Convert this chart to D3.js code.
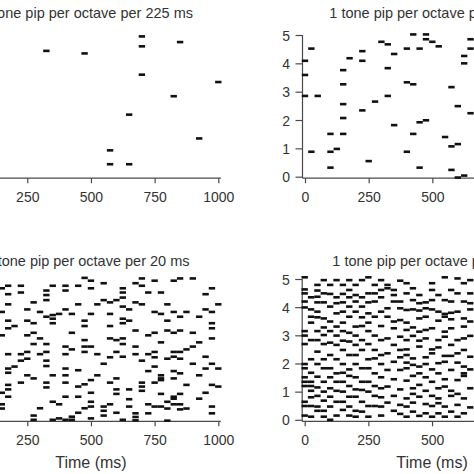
<!DOCTYPE html>
<html>
<head>
<meta charset="utf-8">
<script src="https://cdn.jsdelivr.net/npm/d3@7"></script>
<style>
  html, body { margin: 0; padding: 0; background: #fff; overflow: hidden; }
  svg { display: block; }
</style>
</head>
<body>
<script>
// ---------------- DATA ----------------
const xTicks = [0, 250, 500, 750, 1000];
const yTicks = [0, 1, 2, 3, 4, 5];
const pipDuration = 25; // ms

const titles = [
  "1 tone pip per octave per 225 ms",
  "1 tone pip per octave per 50 ms",
  "1 tone pip per octave per 20 ms",
  "1 tone pip per octave per 10 ms"
];
const xAxisLabel = "Time (ms)";

// [time (ms), octave]
const pips225 = [[325,4.44],[475,4.35],[700,4.95],[700,4.6],[850,4.75],[700,3.6],[1000,3.34],
  [825,2.84],[650,2.19],[925,1.35],[575,0.93],[575,0.44],[650,0.44]];

const pips50 = [[0,4.09],[0,3.59],[0,2.85],[25,4.52],[50,2.85],[25,0.88],[100,1.51],[100,0.88],
  [100,0.32],[125,0.98],[150,3.76],[150,3.26],[150,2.56],[150,2.07],[150,1.51],[175,4.18],
  [225,4.43],[225,4.09],[225,2.34],[250,0.55],[275,2.65],[300,4.76],[325,4.67],[325,3.83],
  [325,2.85],[350,4.33],[350,1.82],[400,4.52],[400,3.33],[400,0.88],[425,5.02],[425,3.26],
  [425,1.51],[450,4.52],[450,1.92],[450,0.32],[475,5.02],[475,4.85],[475,1.99],[500,4.76],
  [525,4.6],[550,1.4],[575,3.16],[575,1.07],[575,0.24],[600,2.49],[600,1.15],[600,-0.03],
  [625,4.26],[625,4.0],[625,0.04],[650,4.85],[650,4.52],[650,2.24]];

const pips20 = [
  [475,5.04],[500,4.94],[550,4.85],
  [150,4.67],[175,4.76],[225,4.76],[350,4.76],[400,4.76],[450,4.76],
  [175,4.46],[225,4.52],[325,4.59],[400,4.59],[500,4.67],
  [325,4.43],[325,4.25],[550,4.25],[600,4.25],
  [175,4.10],[275,4.17],[450,4.10],[525,4.10],[575,4.17],
  [150,3.83],[250,3.92],[300,3.83],[400,3.92],[350,3.72],[375,3.76],[425,3.76],[500,3.76],[575,3.76],
  [325,3.66],
  [175,3.52],[250,3.52],[275,3.43],[350,3.59],[350,3.43],[475,3.52],
  [175,3.25],[200,3.33],[475,3.33],[575,3.33],
  [150,3.00],[250,3.00],[275,3.09],[300,2.89],[425,3.09],
  [475,2.83],[575,2.89],[600,2.83],
  [275,2.69],[325,2.69],[400,2.60],[425,2.50],[475,2.60],[500,2.60],
  [400,2.33],[475,2.41],
  [175,2.33],[225,2.33],[250,2.41],[300,2.33],[325,2.41],
  [225,2.10],[250,2.17],[325,2.10],[525,2.33],[575,2.22],
  [200,1.89],[175,1.82],[325,1.91],[550,1.99],
  [175,1.67],
  [250,1.58],[275,1.47],[350,1.58],[400,1.58],[450,1.76],[400,1.82],
  [225,1.32],[325,1.32],[400,1.32],[500,1.41],[525,1.58],[575,1.32],[600,1.47],
  [175,1.24],[325,1.15],[450,1.18],[475,1.26],
  [150,0.96],[175,1.08],[175,0.82],[400,0.82],[450,0.82],[500,0.96],[600,1.08],
  [350,0.64],[375,0.55],[500,0.64],
  [150,0.55],[150,0.40],[300,0.41],[450,0.25],[475,0.41],[500,0.47],[550,0.47],[575,0.55],
  [275,0.15],[275,0],[350,0],[375,0.05],[400,0],[425,0.11],[425,0],[500,0.05],[550,0.15],[550,0.32],[600,0.25],
  [700,5.02],[750,4.94],[825,4.94],[850,5.02],[900,5.02],
  [675,4.85],[700,4.76],
  [625,4.67],[625,4.52],[625,4.34],
  [725,4.52],[775,4.52],[950,4.46],[975,4.67],
  [675,4.17],[700,4.10],[800,4.10],[1000,4.10],
  [625,4.02],[650,3.92],[750,3.83],[775,3.76],[825,3.83],[850,3.66],[875,3.83],[925,3.66],[950,3.92],[975,3.83],
  [625,3.59],[625,3.43],[650,3.52],[800,3.52],[975,3.43],[975,3.25],
  [675,3.17],[725,3.00],[750,3.09],[800,3.17],[825,3.09],[850,3.17],[900,3.09],[975,2.89],
  [625,2.89],[775,2.75],[925,2.75],
  [625,2.69],[675,2.60],[900,2.60],[875,2.50],[850,2.41],
  [600,2.41],[625,2.24],[675,2.33],[725,2.33],[750,2.41],[750,2.22],[800,2.17],[825,2.41],[825,2.24],[850,2.17],[950,2.24],
  [700,2.10],[750,1.89],[900,1.99],[975,1.99],[950,1.82],[1000,1.82],
  [725,1.73],[775,1.58],[775,1.47],[825,1.73],[825,1.47],[850,1.65],[925,1.58],
  [700,1.32],[750,1.32],[775,1.41],[875,1.24],[975,1.24],[1000,1.18],
  [600,0.92],[650,1.08],[700,1.18],[700,1.03],[775,0.92],[825,0.82],[850,0.92],[950,0.96],
  [650,0.73],[800,0.64],[825,0.75],[850,0.55],[925,0.75],
  [650,0.47],[725,0.55],[750,0.47],[775,0.47],[825,0.55],[875,0.40],[975,0.47],
  [675,0.23],[725,0.23],[800,0.40],[850,0.37],[975,0.23],
  [625,0],[675,0.1],[675,-0.02],[800,-0.03]
];

// [time (ms), [octaves...]]
const pips10Columns = [
  [0,[5.06,4.63,4.49,4.20,3.99,3.15,2.99,2.69,1.98,1.83,1.51,1.35,1.20,0.64,0.49,0.15]],
  [25,[4.35,3.92,3.66,3.45,2.83,2.15,1.67,1.35,1.20,1.03,0.80,0.49,0.11]],
  [50,[4.79,4.59,4.37,4.17,3.84,3.64,3.15,2.83,2.42,1.98,1.53,1.15,0.85,0.47,0.32]],
  [75,[4.96,4.49,4.17,3.60,3.28,3.01,2.69,2.15,1.83,1.35,1.00,0.68,0.32,0.11]],
  [100,[4.79,4.47,4.02,3.49,3.15,2.74,2.30,1.83,1.51,1.12,0.82,0.47,0.0]],
  [125,[4.96,4.35,4.14,3.78,3.31,2.99,2.66,2.15,1.65,1.35,1.03,0.64,0.15]],
  [150,[4.79,4.47,4.17,3.84,3.45,3.15,2.81,2.48,1.98,1.67,1.35,1.00,0.64,0.35]],
  [175,[4.96,4.61,4.35,4.02,3.66,3.09,2.78,2.30,1.79,1.56,1.20,0.82,0.47,0.15]],
  [200,[4.79,4.43,4.20,3.84,3.31,2.99,2.66,2.30,1.98,1.51,1.08,0.82,0.32,0.11]],
  [225,[4.96,4.35,4.02,3.64,3.33,2.83,2.48,1.83,1.35,1.06,0.64,0.29]],
  [250,[5.06,4.49,4.17,3.78,3.45,3.15,2.69,2.15,1.83,1.35,1.00,0.49,0.11]],
  [275,[4.79,4.49,4.20,3.66,2.99,2.48,2.18,1.65,1.20,0.85,0.49]],
  [300,[4.96,4.61,4.35,3.84,3.33,2.83,2.30,1.98,1.51,1.12,0.80,0.47,0.15]],
  [325,[4.79,4.67,3.96,3.66,2.89,2.36,1.77,1.18,0.61]],
  [350,[4.61,4.43,4.20,3.49,3.25,2.66,2.06,1.44,0.85,0.32]],
  [375,[4.94,4.20,3.96,3.54,2.95,2.48,2.22,1.77,1.08,0.53,0.21]],
  [400,[4.85,4.49,3.90,3.45,3.19,2.83,2.50,2.30,2.03,1.83,1.39,0.76,0.47,0.11]],
  [425,[4.67,4.25,3.92,3.28,2.98,2.18,1.95,1.56,1.12,0.92,0.61,0.29]],
  [450,[4.43,4.14,3.88,3.60,3.13,2.81,2.60,1.89,1.65,1.24,0.82,0.14]],
  [475,[4.17,3.96,3.66,3.19,2.89,2.22,1.98,1.51,1.03,0.56,0.23]],
  [500,[4.85,4.61,4.25,3.92,3.25,2.50,2.36,1.79,1.35,0.85,0.49,0.11]],
  [525,[4.43,3.84,3.52,2.83,2.57,2.01,1.65,1.12,0.76,0.59,0.23]],
  [550,[5.06,4.25,3.76,3.66,3.13,2.95,2.27,2.06,1.44,1.18,0.47,0.11]],
  [575,[4.61,4.20,3.80,3.57,3.25,2.66,2.27,1.77,1.03,0.85,0.29]],
  [600,[5.02,4.49,3.84,2.83,2.36,2.03,1.41,0.92,0.53,0.11]],
  [625,[4.85,4.20,3.60,3.31,2.89,2.48,1.89,1.65,1.56,0.76,0.23]],
  [650,[4.96,4.49,4.14,3.92,3.49,2.98,2.24,1.79,1.12,0.44]]
];
const pips10 = pips10Columns.flatMap(([t, octs]) => octs.map(o => [t, o]));

// ---------------- LAYOUT ----------------
const W = 474, H = 474;
const FONT = "'Liberation Sans', Arial, Helvetica, sans-serif";
const TEXT = "#333";
const AXIS = "#4a4a4a";
const fmt = d3.format("d");

const panels = [
  { data: pips225, title: titles[0], xr: [-36.4, 218.3], yr: [176.7, 35.0], tx: 193, ta: "end",   ty: 18,  xlab: false },
  { data: pips50,  title: titles[1], xr: [305.0, 559.7], yr: [176.7, 35.0], tx: 329.3, ta: "start", ty: 18,  xlab: false },
  { data: pips20,  title: titles[2], xr: [-36.4, 218.3], yr: [419.8, 279.0], tx: 189.5, ta: "end",   ty: 266, xlab: true },
  { data: pips10,  title: titles[3], xr: [304.7, 559.4], yr: [419.8, 279.0], tx: 332.3, ta: "start", ty: 266, xlab: true }
];

const svg = d3.select("body").append("svg")
  .attr("width", W).attr("height", H)
  .style("font-family", FONT);

panels.forEach(p => {
  const x = d3.scaleLinear().domain([0, 1000]).range(p.xr);
  const y = d3.scaleLinear().domain([0, 5]).range(p.yr);
  const g = svg.append("g");

  const axisY = y(0) + 1.5;
  const axisX = x(0) - 2.5;

  // x axis
  const gx = g.append("g").attr("transform", `translate(0,${axisY})`)
    .call(d3.axisBottom(x).tickValues(xTicks).tickFormat(fmt).tickSize(5).tickSizeOuter(0));
  gx.select(".domain").remove();
  gx.append("line").attr("x1", x(-10)).attr("x2", x(1010)).attr("y1", 0).attr("y2", 0)
    .attr("stroke", AXIS).attr("stroke-width", 1.2);
  gx.selectAll(".tick line").attr("stroke", AXIS).attr("stroke-width", 1.2);
  gx.selectAll(".tick text").attr("y", 23.5).attr("dy", 0)
    .attr("fill", TEXT).style("font-size", "14px").style("font-family", FONT);

  // y axis
  const gy = g.append("g").attr("transform", `translate(${axisX},0)`)
    .call(d3.axisLeft(y).tickValues(yTicks).tickFormat(fmt).tickSize(7).tickSizeOuter(0));
  gy.select(".domain").remove();
  gy.append("line").attr("x1", 0).attr("x2", 0).attr("y1", axisY).attr("y2", y(5))
    .attr("stroke", AXIS).attr("stroke-width", 1.2);
  gy.selectAll(".tick line").attr("stroke", AXIS).attr("stroke-width", 1.2);
  gy.selectAll(".tick text").attr("x", -12.5).attr("dy", "0.36em")
    .attr("fill", TEXT).style("font-size", "14px").style("font-family", FONT);

  // pips
  const w = x(pipDuration) - x(0);
  const h = 2.6;
  g.append("g").selectAll("rect").data(p.data).join("rect")
    .attr("x", d => x(d[0]) - w / 2)
    .attr("y", d => y(d[1]) - h / 2)
    .attr("width", w)
    .attr("height", h)
    .attr("fill", "#111");

  // title
  g.append("text").attr("x", p.tx).attr("y", p.ty).attr("text-anchor", p.ta)
    .attr("fill", TEXT).style("font-size", "14.5px").text(p.title);

  if (p.xlab) {
    g.append("text").attr("x", (x(0) + x(1000)) / 2).attr("y", 468)
      .attr("text-anchor", "middle").attr("fill", TEXT).style("font-size", "16px")
      .text(xAxisLabel);
  }
});
</script>
</body>
</html>
